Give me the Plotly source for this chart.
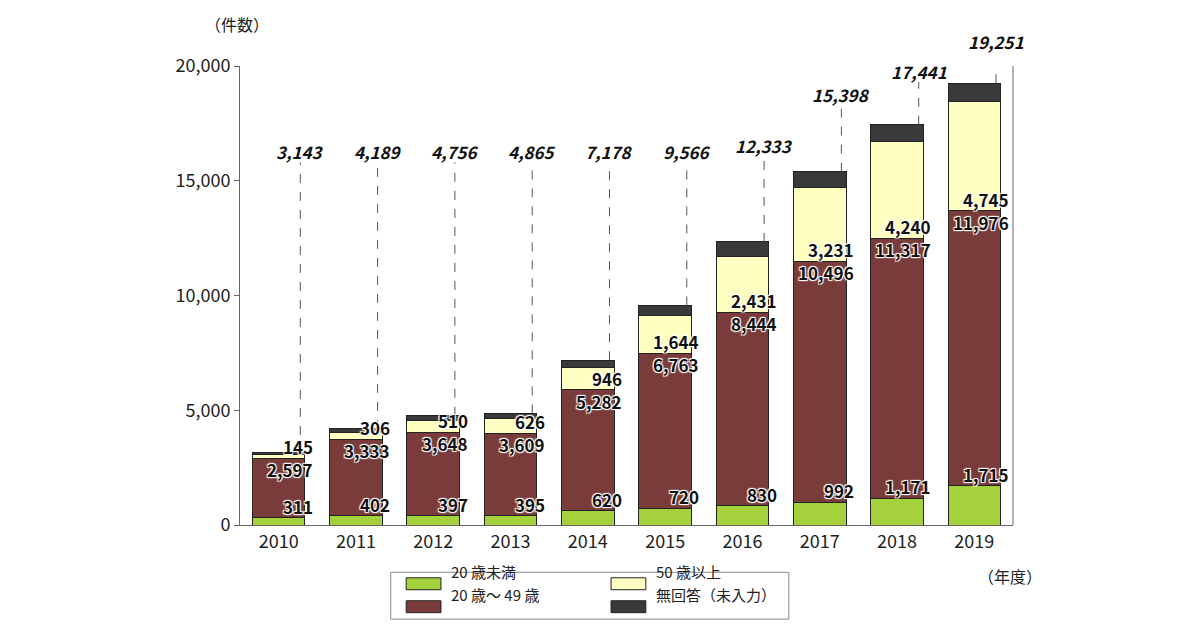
import plotly.graph_objects as go

years = ["2010","2011","2012","2013","2014","2015","2016","2017","2018","2019"]
under20 = [311,402,397,395,620,720,830,992,1171,1715]
age20_49 = [2597,3333,3648,3609,5282,6763,8444,10496,11317,11976]
over50 = [145,306,510,626,946,1644,2431,3231,4240,4745]
noans = [90,148,201,235,330,439,628,679,713,815]
totals = [3143,4189,4756,4865,7178,9566,12333,15398,17441,19251]
total_label_y = [15800,15800,15800,15800,15800,15800,16100,18300,19300,20600]

cols = ["#a5d23c","#7a3b3b","#ffffc2","#3a3a3a"]
names = ["20 歳未満","20 歳～ 49 歳","50 歳以上","無回答（未入力）"]
x = list(range(len(years)))
fig = go.Figure()
for vals, c, n in zip([under20, age20_49, over50, noans], cols, names):
    fig.add_bar(x=x, y=vals, name=n, marker=dict(color=c, line=dict(color="#222", width=1)),
                width=0.68, showlegend=False)
fig.update_layout(barmode="stack", width=1200, height=630, plot_bgcolor="white", paper_bgcolor="white",
                  margin=dict(l=232, r=195, t=58, b=113, autoexpand=False),
                  font=dict(family="Noto Sans CJK JP", size=17, color="#222"))
fig.update_xaxes(tickvals=x, ticktext=years, range=[-0.5, 9.5], showline=True, linecolor="#666", ticks="",
                 automargin=False, tickfont=dict(size=18))
fig.update_yaxes(range=[0, 20000], tickvals=[0,5000,10000,15000,20000], tickformat=",", showline=True,
                 linecolor="#666", ticks="outside", ticklen=5, tickcolor="#666", showgrid=False,
                 automargin=False, tickfont=dict(size=18))
fig.add_shape(type="line", xref="paper", yref="paper", x0=1, x1=1, y0=0, y1=1, line=dict(color="#666", width=1))
sh = "1px 1px 1px white, -1px -1px 1px white, 1px -1px 1px white, -1px 1px 1px white"
bf = dict(size=17, color="#111", weight="bold", shadow=sh)
for i in x:
    g = under20[i]; b = g + age20_49[i]
    fig.add_annotation(x=i+0.47, y=g, text=f"{under20[i]:,}", showarrow=False, xanchor="right", yanchor="bottom", font=bf, yshift=-3)
    fig.add_annotation(x=i+0.47, y=b, text=f"{age20_49[i]:,}", showarrow=False, xanchor="right", yanchor="top", font=bf, yshift=3)
    fig.add_annotation(x=i+0.47, y=b, text=f"{over50[i]:,}", showarrow=False, xanchor="right", yanchor="bottom", font=bf, yshift=-3)
    fig.add_annotation(x=i+0.28, yref="paper", y=total_label_y[i]/20000, text=f"<i>{totals[i]:,}</i>", showarrow=False,
                       yanchor="bottom", font=dict(size=17, color="#111", weight="bold"), yshift=-4)
    fig.add_shape(type="line", x0=i+0.28, x1=i+0.28, y0=totals[i], y1=min(total_label_y[i], 20000),
                  line=dict(color="#555", width=1, dash="dash"))
fig.add_annotation(xref="paper", yref="paper", x=0.04, y=1.06, text="（件数）", showarrow=False, xanchor="right", yanchor="bottom", font=dict(size=16))
fig.add_annotation(xref="paper", yref="paper", x=1.04, y=-0.08, text="（年度）", showarrow=False, xanchor="right", yanchor="top", font=dict(size=16))
# legend box
fig.add_shape(type="rect", xref="paper", yref="paper", x0=0.195, x1=0.71, y0=-0.103, y1=-0.205, line=dict(color="#888", width=1))
pos = [(0.215, -0.128), (0.215, -0.178), (0.48, -0.128), (0.48, -0.178)]
for (px, py), c, n in zip(pos, cols, names):
    fig.add_shape(type="rect", xref="paper", yref="paper", x0=px, x1=px+0.045, y0=py-0.013, y1=py+0.013,
                  fillcolor=c, line=dict(color="#222", width=1))
    fig.add_annotation(xref="paper", yref="paper", x=px+0.055, y=py, text=n, showarrow=False, xanchor="left", font=dict(size=15))
fig.write_html("out.html")
